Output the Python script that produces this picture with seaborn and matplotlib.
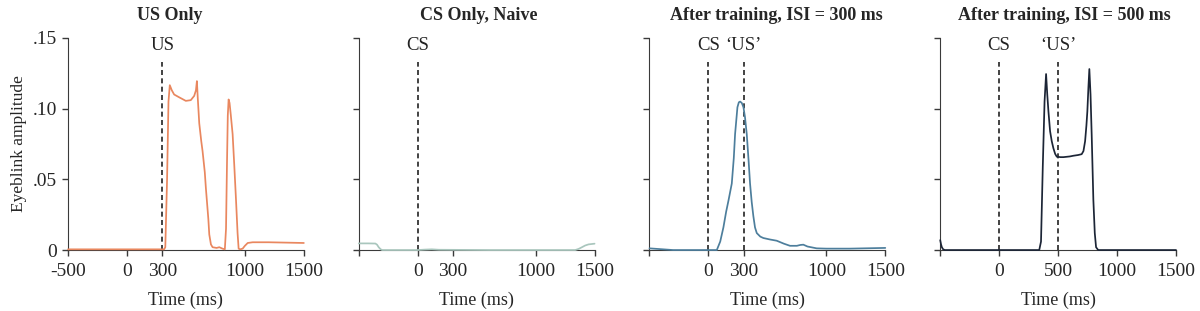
import matplotlib
matplotlib.use("Agg")
import matplotlib.pyplot as plt
import seaborn as sns

# Courbes (temps en ms, amplitude du clignement)
titles = ["US Only", "CS Only, Naive", "After training, ISI = 300 ms", "After training, ISI = 500 ms"]

t_us_only = [-500, 0, 315, 325, 340, 352, 363, 380, 400, 443, 470, 499, 541, 570, 585, 593,
             600, 613, 630, 641, 660, 669, 690, 698, 712, 726, 760, 783, 810, 830, 840, 848,
             855, 862, 870, 880, 896, 910, 925, 938, 947, 960, 981, 1000, 1024, 1066, 1200, 1500]
a_us_only = [0.0005, 0.0005, 0.0005, 0.002, 0.05, 0.105, 0.1166, 0.113, 0.110, 0.108, 0.1068, 0.1055,
             0.106, 0.109, 0.113, 0.1195, 0.108, 0.0896, 0.077, 0.070, 0.055, 0.044, 0.022, 0.011,
             0.004, 0.002, 0.0015, 0.002, 0.001, 0.0005, 0.015, 0.06, 0.095, 0.1065, 0.104, 0.096,
             0.082, 0.06, 0.035, 0.012, 0.001, 0.0005, 0.001, 0.003, 0.005, 0.0055, 0.0055, 0.005]

t_cs_naive = [-500, -420, -359, -345, -331, -315, -302, 0, 60, 119, 180, 600, 1000, 1300, 1336,
              1365, 1393, 1420, 1449, 1500]
a_cs_naive = [0.0047, 0.0047, 0.0046, 0.0038, 0.002, 0.0006, 0.0, 0.0, 0.0003, 0.0005, 0.0002,
              0.0, 0.0, 0.0, 0.0, 0.0008, 0.002, 0.0032, 0.004, 0.0045]

t_isi300 = [-500, -400, -300, 0, 71, 100, 127, 150, 170, 198, 215, 226, 246, 258, 269, 283, 297,
            310, 325, 340, 353, 367, 381, 395, 410, 440, 466, 520, 579, 640, 692, 750, 780, 805,
            840, 918, 1000, 1200, 1500]
a_isi300 = [0.0012, 0.0006, 0.0, 0.0, 0.0, 0.006, 0.016, 0.027, 0.035, 0.047, 0.065, 0.082, 0.101,
            0.1045, 0.105, 0.104, 0.101, 0.094, 0.082, 0.064, 0.047, 0.034, 0.024, 0.016, 0.012,
            0.0095, 0.0085, 0.0075, 0.0066, 0.0045, 0.003, 0.003, 0.0036, 0.0038, 0.0025, 0.0012,
            0.001, 0.001, 0.0015]

t_isi500 = [-500, -493, -486, -475, -460, 0, 340, 355, 370, 385, 398, 408, 418, 432, 446, 460,
            475, 489, 520, 545, 600, 630, 670, 700, 715, 729, 740, 748, 757, 765, 775, 785, 799,
            811, 822, 840, 1000, 1500]
a_isi500 = [0.007, 0.004, 0.002, 0.0005, 0.0, 0.0, 0.0, 0.006, 0.059, 0.105, 0.1245, 0.11, 0.098,
            0.084, 0.077, 0.072, 0.068, 0.066, 0.0657, 0.0657, 0.0662, 0.0667, 0.0672, 0.0678, 0.070,
            0.077, 0.088, 0.098, 0.115, 0.128, 0.11, 0.081, 0.0355, 0.012, 0.002, 0.0, 0.0, 0.0]

series_t = [t_us_only, t_cs_naive, t_isi300, t_isi500]
series_a = [a_us_only, a_cs_naive, a_isi300, a_isi500]

# Marqueurs d'événements (lignes pointillées)
event_times = [[300], [0], [0, 300], [0, 500]]
event_labels = [["US"], ["CS"], ["CS", "\u2018US\u2019"], ["CS", "\u2018US\u2019"]]

x_ticks = [[-500, 0, 300, 1000, 1500], [-500, 0, 300, 1000, 1500],
           [-500, 0, 300, 1000, 1500], [-500, 0, 500, 1000, 1500]]
x_ticklabels = [["-500", "0", "300", "1000", "1500"], ["", "0", "300", "1000", "1500"],
                ["", "0", "300", "1000", "1500"], ["", "0", "500", "1000", "1500"]]
y_ticks = [0, 0.05, 0.10, 0.15]
y_ticklabels = ["0", ".05", ".10", ".15"]

colors = ["#E9875F", "#A9C6BD", "#4D7E9C", "#1C2536"]
title_x = [0.43, 0.51, 0.54, 0.525]

sns.set_style("ticks")
plt.rcParams["font.family"] = ["Liberation Serif", "DejaVu Serif"]
plt.rcParams["axes.edgecolor"] = "#3a3a3a"

fig, axs = plt.subplots(1, 4, figsize=(12, 3.11), dpi=100)
fig.subplots_adjust(left=0.0567, right=0.98, bottom=0.196, top=0.878, wspace=0.233)

for i, ax in enumerate(axs):
    for t_ev, lab in zip(event_times[i], event_labels[i]):
        ax.plot([t_ev, t_ev], [0, 0.133], color="#222222", lw=1.2, ls=(0, (3, 2)), zorder=1)
        ax.text(t_ev, 0.1445, lab, ha="center", va="center", fontsize=13.5, color="#222222")
    sns.lineplot(x=series_t[i], y=series_a[i], ax=ax, color=colors[i], lw=1.25, clip_on=False, zorder=3)
    ax.set_xlim(-500, 1500)
    ax.set_ylim(0, 0.15)
    ax.set_xticks(x_ticks[i])
    ax.set_xticklabels(x_ticklabels[i])
    ax.set_yticks(y_ticks)
    ax.set_yticklabels(y_ticklabels if i == 0 else [""] * 4)
    ax.tick_params(axis="both", labelsize=14, length=4, width=1, color="#3a3a3a", pad=4)
    ax.tick_params(axis="x", pad=5)
    ax.set_xlabel("Time (ms)", fontsize=13, labelpad=9)
    ax.set_title(titles[i], fontsize=13, fontweight="bold", x=title_x[i], pad=13)
    sns.despine(ax=ax)

axs[0].set_ylabel("Eyeblink amplitude", fontsize=12.5, labelpad=4)

fig.savefig("out.png", dpi=100)
